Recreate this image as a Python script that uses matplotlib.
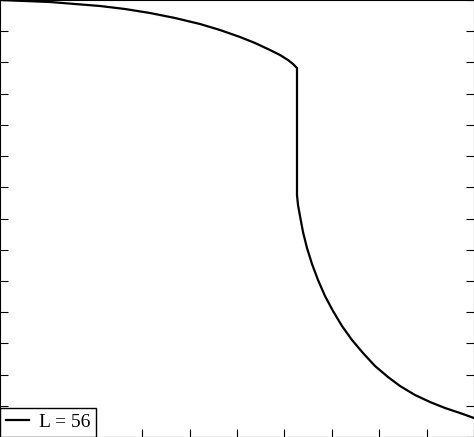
import matplotlib
matplotlib.use("Agg")
import matplotlib.pyplot as plt
import numpy as np

px_x = [0, 25, 50, 75, 100, 125, 150, 175, 200, 220, 240, 255, 270, 280, 288, 293, 297, 297,
        298, 300, 303, 307, 312, 318, 325, 333, 342, 352, 363, 375, 388, 400, 415, 430, 445, 460, 474]
px_y = [0, 1, 2, 4, 6, 9, 13, 18, 24, 30, 37, 43, 50, 55, 60, 64, 68, 195,
        205, 216, 232, 248, 264, 280, 296, 311, 326, 340, 353, 366, 377, 386, 395, 402, 408, 413, 418]
x = [v / 474 for v in px_x]
y = [1 - v / 437 for v in px_y]

plt.rcParams['font.family'] = ['Liberation Serif', 'DejaVu Serif']
fig = plt.figure(figsize=(4.74, 4.37), dpi=100)
ax = fig.add_axes([0, 0, 1, 1])
ax.plot(x, y, color='black', lw=1.6, label='L = 56')
ax.set_xlim(0, 1)
ax.set_ylim(0, 1)
ax.set_xticks(np.linspace(0, 1, 11))
ax.set_yticks(np.linspace(0, 1, 15))
ax.tick_params(direction='in', left=True, right=True, bottom=True, top=False,
               labelleft=False, labelbottom=False, length=6)
leg = ax.legend(loc='lower left', fontsize=14, frameon=True, fancybox=False,
                borderaxespad=0, handlelength=1.2, handletextpad=0.5, borderpad=0.3)
leg.get_frame().set_edgecolor('black')
leg.get_frame().set_alpha(1)
fig.savefig('out.png', dpi=100)
